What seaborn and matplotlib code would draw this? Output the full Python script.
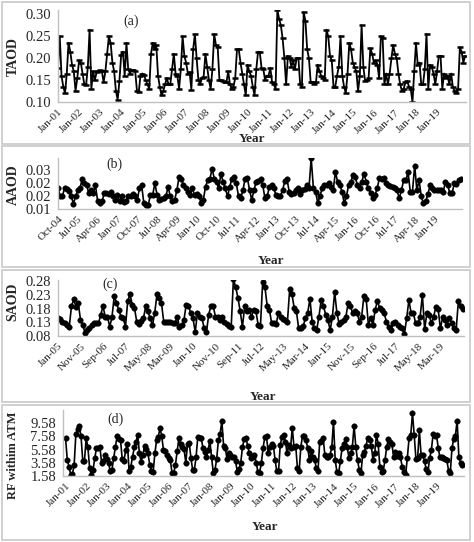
import numpy as np
import pandas as pd
import matplotlib
matplotlib.use("Agg")
import matplotlib.pyplot as plt
from matplotlib.patches import Rectangle
import seaborn as sns

# monthly series
taod = [0.178, 0.25, 0.16, 0.135, 0.12, 0.165, 0.235, 0.215, 0.185, 0.17,
        0.125, 0.155, 0.195, 0.19, 0.165, 0.14, 0.138, 0.18, 0.265, 0.13,
        0.17, 0.15, 0.168, 0.17, 0.172, 0.17, 0.145, 0.17, 0.21, 0.25,
        0.235, 0.19, 0.17, 0.125, 0.105, 0.148, 0.208, 0.215, 0.16, 0.235,
        0.175, 0.165, 0.172, 0.172, 0.17, 0.125, 0.122, 0.16, 0.165, 0.162,
        0.15, 0.14, 0.13, 0.21, 0.235, 0.22, 0.23, 0.16, 0.135, 0.115,
        0.125, 0.14, 0.155, 0.14, 0.14, 0.175, 0.21, 0.165, 0.16, 0.13,
        0.175, 0.25, 0.205, 0.19, 0.165, 0.168, 0.128, 0.22, 0.255, 0.2,
        0.15, 0.14, 0.155, 0.158, 0.21, 0.18, 0.15, 0.13, 0.175, 0.255,
        0.23, 0.225, 0.15, 0.15, 0.148, 0.145, 0.145, 0.17, 0.14, 0.13,
        0.135, 0.155, 0.22, 0.22, 0.19, 0.165, 0.14, 0.115, 0.185, 0.17,
        0.16, 0.135, 0.115, 0.175, 0.215, 0.213, 0.178, 0.175, 0.15, 0.16,
        0.16, 0.178, 0.145, 0.14, 0.13, 0.31, 0.29, 0.275, 0.245, 0.2,
        0.14, 0.205, 0.2, 0.18, 0.195, 0.175, 0.2, 0.2, 0.14, 0.135,
        0.305, 0.285, 0.22, 0.2, 0.145, 0.145, 0.14, 0.145, 0.185, 0.17,
        0.16, 0.155, 0.15, 0.265, 0.25, 0.205, 0.195, 0.135, 0.135, 0.16,
        0.18, 0.25, 0.16, 0.135, 0.12, 0.165, 0.235, 0.22, 0.19, 0.18,
        0.17, 0.125, 0.16, 0.275, 0.18, 0.148, 0.15, 0.155, 0.223, 0.21,
        0.19, 0.195, 0.185, 0.155, 0.25, 0.245, 0.14, 0.165, 0.14, 0.165,
        0.2, 0.23, 0.21, 0.2, 0.165, 0.14, 0.125, 0.13, 0.145, 0.148,
        0.135, 0.13, 0.1, 0.17, 0.235, 0.185, 0.19, 0.14, 0.14, 0.175,
        0.255, 0.13, 0.185, 0.18, 0.165, 0.14, 0.17, 0.205, 0.205, 0.13,
        0.165, 0.155, 0.16, 0.14, 0.165, 0.135, 0.125, 0.12, 0.13, 0.225,
        0.215, 0.19, 0.205]

aaod = [0.018, 0.0148, 0.015, 0.0179, 0.0175, 0.0169, 0.015, 0.012, 0.0148, 0.0172,
        0.0179, 0.0216, 0.020, 0.0191, 0.016, 0.0172, 0.016, 0.0191, 0.0131, 0.0122,
        0.0129, 0.016, 0.0163, 0.0156, 0.0164, 0.0148, 0.0135, 0.0154, 0.0129, 0.0148,
        0.0125, 0.0129, 0.0148, 0.015, 0.0156, 0.0148, 0.0135, 0.0179, 0.019, 0.0122,
        0.0116, 0.0116, 0.0154, 0.0154, 0.0198, 0.0154, 0.0135, 0.0138, 0.0141, 0.0148,
        0.0185, 0.0148, 0.0129, 0.0135, 0.0172, 0.0223, 0.0216, 0.0191, 0.0179, 0.0166,
        0.0154, 0.0179, 0.0154, 0.0156, 0.015, 0.0122, 0.0135, 0.0185, 0.021, 0.0216,
        0.0254, 0.0216, 0.0204, 0.0179, 0.0235, 0.0204, 0.0179, 0.0148, 0.0185, 0.0216,
        0.0223, 0.0198, 0.0148, 0.0141, 0.0172, 0.0216, 0.0219, 0.0172, 0.0135, 0.0172,
        0.0204, 0.0206, 0.0216, 0.0191, 0.0141, 0.0148, 0.0185, 0.0191, 0.0179, 0.0154,
        0.0148, 0.015, 0.0172, 0.0206, 0.0216, 0.0166, 0.0156, 0.016, 0.0172, 0.0179,
        0.0156, 0.0172, 0.0176, 0.0191, 0.0179, 0.0294, 0.0179, 0.0166, 0.0122, 0.015,
        0.0179, 0.0191, 0.0191, 0.0198, 0.0185, 0.0172, 0.0241, 0.0204, 0.0191, 0.0166,
        0.0122, 0.0148, 0.0191, 0.0204, 0.0229, 0.0223, 0.0191, 0.0179, 0.0204, 0.0235,
        0.0204, 0.0179, 0.016, 0.0141, 0.0154, 0.0179, 0.0219, 0.0216, 0.0219, 0.0198,
        0.0191, 0.0188, 0.0185, 0.0179, 0.0172, 0.0141, 0.0172, 0.021, 0.021, 0.0241,
        0.0166, 0.0166, 0.0266, 0.0172, 0.021, 0.0148, 0.0122, 0.0129, 0.0156, 0.0191,
        0.0179, 0.0172, 0.0172, 0.0172, 0.0172, 0.0166, 0.0204, 0.0191, 0.016, 0.016,
        0.0198, 0.0195, 0.021, 0.0214]

saod = [0.145, 0.1425, 0.1325, 0.126, 0.12, 0.114, 0.189, 0.214, 0.186, 0.201,
        0.139, 0.12, 0.0925, 0.101, 0.111, 0.12, 0.129, 0.126, 0.126, 0.158,
        0.189, 0.151, 0.151, 0.114, 0.149, 0.226, 0.201, 0.176, 0.151, 0.145,
        0.114, 0.208, 0.233, 0.195, 0.183, 0.1325, 0.124, 0.136, 0.145, 0.189,
        0.17, 0.145, 0.12, 0.164, 0.233, 0.22, 0.201, 0.1325, 0.1325, 0.1325,
        0.13, 0.129, 0.126, 0.151, 0.114, 0.12, 0.139, 0.195, 0.191, 0.164,
        0.145, 0.095, 0.164, 0.151, 0.145, 0.1075, 0.095, 0.158, 0.191, 0.189,
        0.151, 0.151, 0.139, 0.151, 0.1325, 0.124, 0.116, 0.114, 0.289, 0.258,
        0.22, 0.17, 0.114, 0.189, 0.17, 0.176, 0.151, 0.176, 0.17, 0.12,
        0.116, 0.279, 0.258, 0.191, 0.176, 0.126, 0.126, 0.124, 0.164, 0.151,
        0.141, 0.139, 0.1325, 0.251, 0.233, 0.183, 0.17, 0.1075, 0.111, 0.116,
        0.145, 0.164, 0.216, 0.1325, 0.1075, 0.101, 0.151, 0.211, 0.191, 0.158,
        0.139, 0.101, 0.151, 0.241, 0.164, 0.124, 0.1325, 0.139, 0.151, 0.201,
        0.189, 0.164, 0.17, 0.166, 0.1325, 0.151, 0.226, 0.216, 0.12, 0.145,
        0.12, 0.176, 0.208, 0.183, 0.174, 0.164, 0.1325, 0.114, 0.101, 0.126,
        0.1325, 0.12, 0.114, 0.1075, 0.086, 0.145, 0.211, 0.164, 0.164, 0.126,
        0.126, 0.151, 0.229, 0.104, 0.164, 0.158, 0.126, 0.151, 0.186, 0.179,
        0.1075, 0.149, 0.139, 0.12, 0.145, 0.126, 0.1075, 0.101, 0.208, 0.189,
        0.179]

rf_atm = [7.3, 4.0, 3.0, 1.8, 1.9, 3.3, 8.0, 8.7, 9.1, 7.6,
          3.9, 3.9, 7.3, 5.9, 2.8, 1.7, 2.5, 4.3, 5.8, 5.8,
          6.0, 3.5, 3.8, 4.8, 4.2, 3.6, 2.3, 2.5, 4.3, 5.9, 7.6,
          7.2, 7.0, 4.1, 3.9, 5.5, 6.5, 2.3, 3.0, 4.5, 5.9,
          6.7, 7.8, 5.0, 3.7, 4.8, 6.1, 5.6, 5.0, 3.3, 2.4, 2.2,
          5.0, 7.0, 7.5, 8.9, 7.6, 5.5, 5.3, 4.8, 4.3, 4.0, 2.0,
          2.1, 3.3, 5.4, 7.3, 6.4, 6.0, 5.6, 3.6, 6.4, 6.6, 4.3,
          2.5, 2.5, 4.5, 7.5, 7.4, 7.3, 5.8, 5.2, 4.5, 5.5, 6.9,
          4.5, 2.1, 2.5, 4.2, 7.0, 8.0, 9.9, 6.2, 5.8, 4.2, 5.0,
          4.8, 4.5, 4.5, 3.8, 2.2, 2.6, 3.6, 5.9, 7.2, 7.4, 6.2,
          5.0, 4.3, 4.5, 4.8, 3.6, 2.2, 2.1, 3.6, 5.8, 7.5, 7.6,
          5.0, 5.9, 6.5, 6.2, 4.0, 2.3, 2.3, 6.3, 7.5, 7.8, 6.8,
          5.0, 6.3, 5.8, 8.9, 6.0, 6.2, 2.8, 2.3, 6.0, 7.7, 7.6,
          7.0, 5.8, 4.0, 5.3, 4.4, 4.0, 2.8, 2.4, 6.8, 6.9, 7.3,
          4.7, 4.4, 4.5, 4.8, 5.9, 9.8, 4.0, 2.2, 2.0, 3.8, 5.8,
          6.5, 7.2, 6.0, 4.3, 5.0, 6.0, 9.2, 6.0, 4.0, 2.5, 2.0,
          4.8, 5.2, 6.2, 7.4, 7.0, 6.2, 4.0, 5.0, 7.8, 6.5, 3.0,
          2.2, 2.4, 4.0, 6.0, 7.2, 6.8, 6.5, 4.5, 5.2, 4.6, 5.0,
          4.4, 3.0, 2.2, 1.8, 4.3, 7.3, 7.8, 11.1, 7.8, 4.2,
          4.3, 8.5, 4.8, 4.7, 3.8, 2.6, 2.2, 4.3, 5.5, 7.9, 7.6,
          7.8, 5.8, 4.4, 4.5, 4.3, 4.2, 4.0, 2.4, 2.0, 5.8, 7.2,
          7.7, 9.98, 4.5, 3.6, 3.3]

# panels: values, ylabel, tag, start month, label step, number of labels,
# y ticks, y tick text, y limits
panels = [
    (taod, "TAOD", "(a)", "2001-01", 12, 19,
     [0.10, 0.15, 0.20, 0.25, 0.30], ["0.10", "0.15", "0.20", "0.25", "0.30"], (0.10, 0.31)),
    (aaod, "AAOD", "(b)", "2004-10", 9, 20,
     [0.01, 0.015, 0.02, 0.025], ["0.01", "0.02", "0.02", "0.03"], (0.01, 0.0295)),
    (saod, "SAOD", "(c)", "2005-01", 10, 18,
     [0.08, 0.13, 0.18, 0.23, 0.28], ["0.08", "0.13", "0.18", "0.23", "0.28"], (0.08, 0.285)),
    (rf_atm, "RF withim ATM", "(d)", "2001-01", 12, 19,
     [1.58, 3.58, 5.58, 7.58, 9.58], ["1.58", "3.58", "5.58", "7.58", "9.58"], (1.58, 11.58)),
]

W, H = 474, 542
# axes boxes in pixels: x0, x1, y0(top), y1(bottom)
boxes = [(58, 466, 10, 102), (58, 462, 158, 209), (58, 464, 280, 336), (63, 464, 410, 476)]
frames = [(2, 2, 470, 144), (2, 146, 470, 267), (2, 270, 470, 402), (2, 405, 470, 540)]
year_y = [139, 261, 397, 527]
year_x = [252, 271, 263, 265]
ylab_y = [57, 185, 302, 455]
tag_pos = [(0.16, 0.88), (0.12, 0.88), (0.11, 0.93), (0.11, 0.86)]

sns.set_style("white")
plt.rcParams["font.family"] = ["Liberation Serif", "DejaVu Serif"]

fig = plt.figure(figsize=(W / 100, H / 100), dpi=100)

for i, (vals, ylab, tag, start, step, nlab, yt, ytl, ylim) in enumerate(panels):
    fx0, fy0, fx1, fy1 = frames[i]
    fig.patches.append(Rectangle((fx0 / W, 1 - fy1 / H), (fx1 - fx0) / W, (fy1 - fy0) / H,
                                 transform=fig.transFigure, fill=False,
                                 edgecolor="#c8c8c8", lw=1.2))
    x0, x1, y0, y1 = boxes[i]
    ax = fig.add_axes([x0 / W, 1 - y1 / H, (x1 - x0) / W, (y1 - y0) / H])
    n = len(vals)
    idx = np.arange(n)
    labels = pd.date_range(start, periods=n, freq="MS").strftime("%b-%y")
    major = idx[::step][:nlab]
    if i == 0:
        sns.lineplot(x=idx, y=vals, ax=ax, color="black", lw=1.3, marker="_",
                     markersize=4, markeredgewidth=1.8, markeredgecolor="black")
    else:
        sns.lineplot(x=idx, y=vals, ax=ax, color="black", lw=1.2, marker="o",
                     markersize=4, markeredgecolor="black", markeredgewidth=0.3)
    if i == 3:
        ax.set_xlim(-1.5, n)
    else:
        ax.set_xlim(0, n - 0.5)
    ax.set_ylim(*ylim)
    ax.set_yticks(yt)
    ax.set_yticklabels(ytl, fontsize=10.5)
    ax.set_xticks(idx, minor=True)
    ax.set_xticks(major)
    ax.set_xticklabels(labels[major], rotation=45, ha="right", rotation_mode="anchor",
                       fontsize=8)
    ax.tick_params(axis="x", which="both", length=3, color="#b0b0b0", pad=1)
    ax.tick_params(axis="y", length=3, color="#b0b0b0", pad=2)
    for s in ["top", "right"]:
        ax.spines[s].set_visible(False)
    for s in ["left", "bottom"]:
        ax.spines[s].set_color("#c0c0c0")
        ax.spines[s].set_linewidth(1)
    ax.set_xlabel("")
    ax.set_ylabel("")
    ax.text(tag_pos[i][0], tag_pos[i][1], tag, transform=ax.transAxes, fontsize=10,
            va="center", ha="left")
    fig.text(year_x[i] / W, 1 - year_y[i] / H, "Year", fontsize=9.5, fontweight="bold",
             ha="center", va="center")
    fig.text(13 / W, 1 - ylab_y[i] / H, ylab, fontsize=10 if i < 3 else 9,
             fontweight="bold", rotation=90, ha="center", va="center")

fig.savefig("out.png", dpi=100)
